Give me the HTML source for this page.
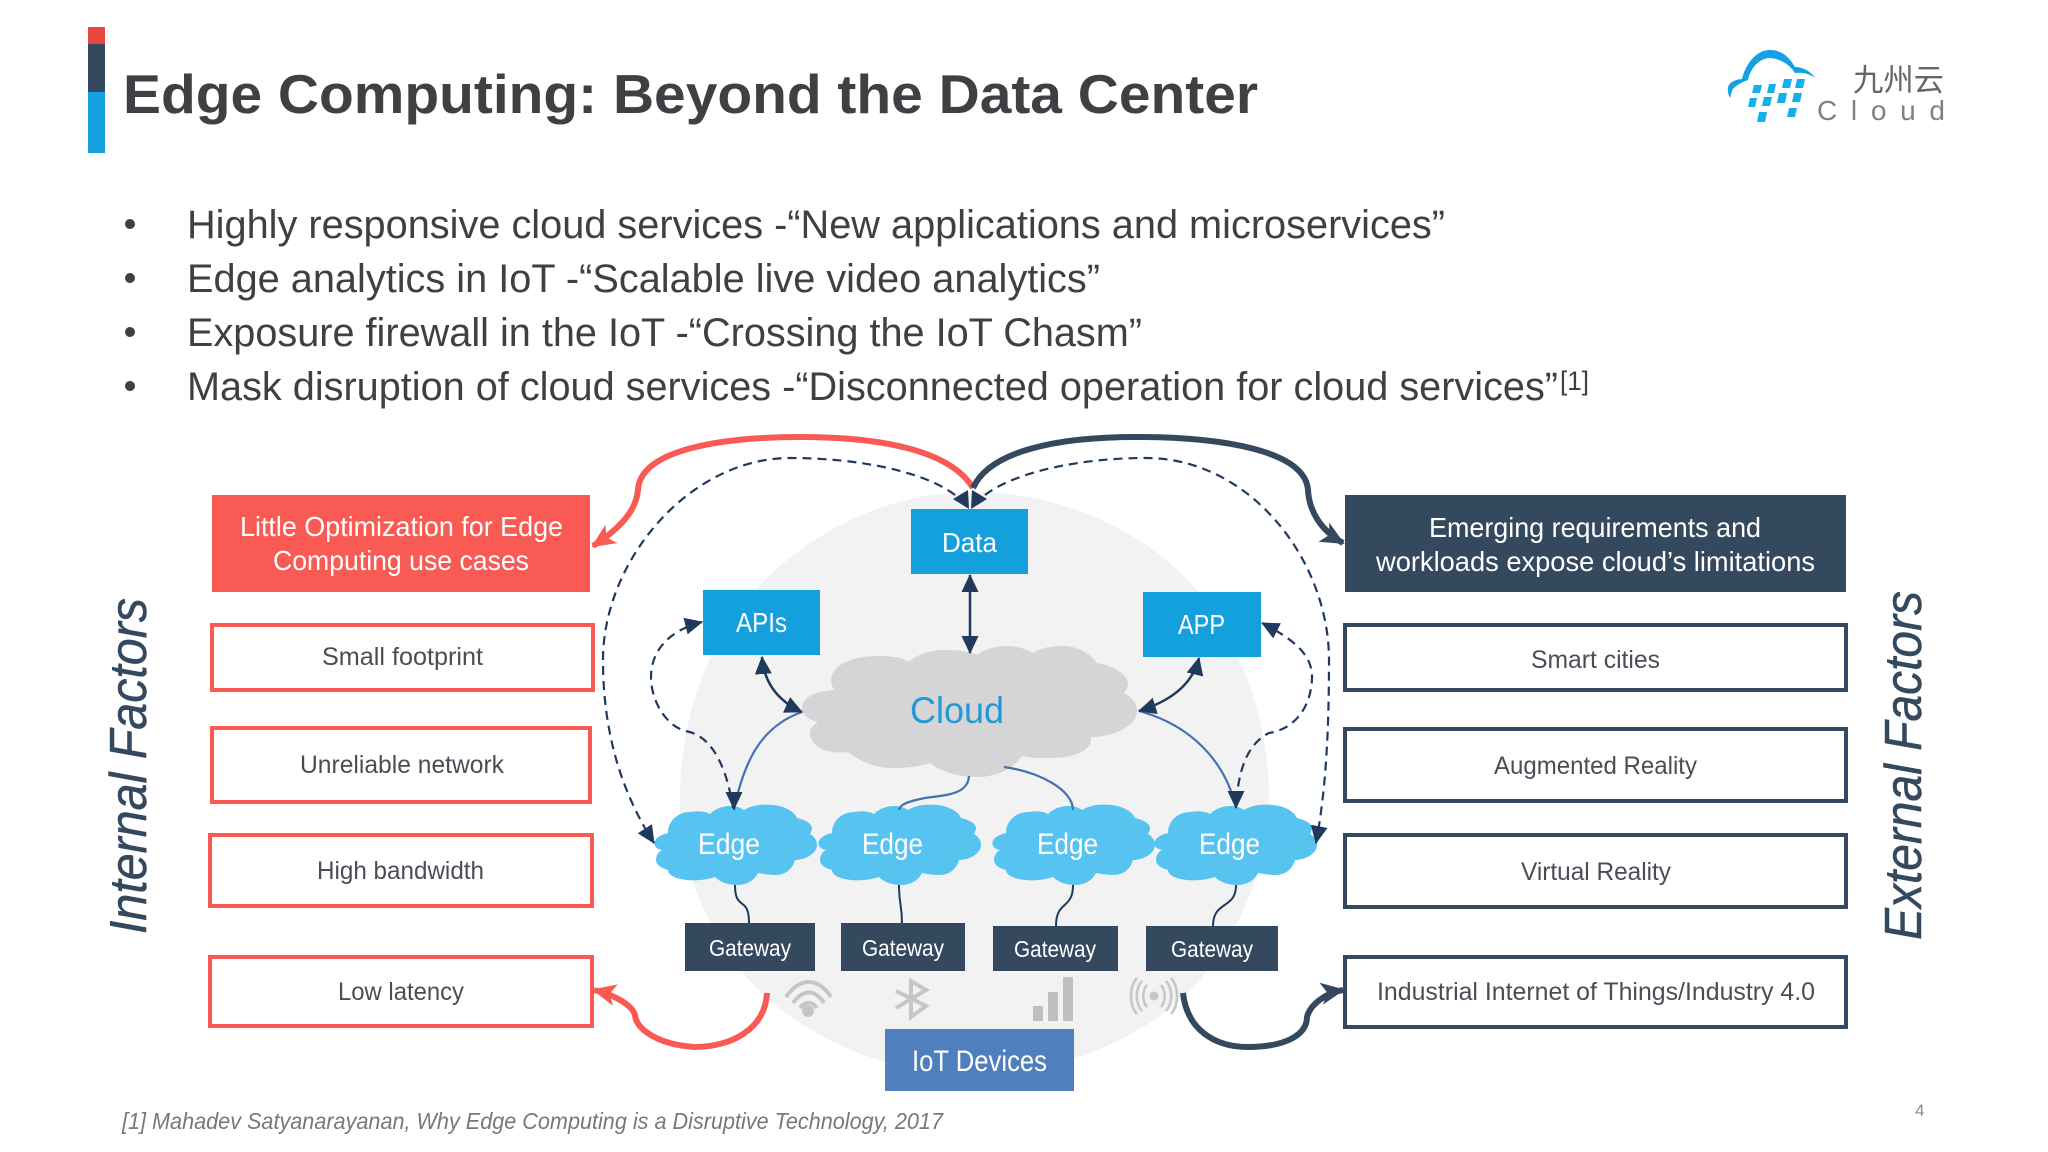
<!DOCTYPE html>
<html>
<head>
<meta charset="utf-8">
<style>
html,body{margin:0;padding:0;background:#fff;width:2048px;height:1152px;overflow:hidden}
svg{display:block}
text{font-family:"Liberation Sans","Noto Sans CJK SC",sans-serif}
</style>
</head>
<body>
<svg width="2048" height="1152" viewBox="0 0 2048 1152" xmlns="http://www.w3.org/2000/svg">
<defs>
<marker id="ad" viewBox="0 0 18 17" refX="17" refY="8.5" markerWidth="18" markerHeight="17" markerUnits="userSpaceOnUse" orient="auto-start-reverse"><path d="M0 0L18 8.5L0 17Z" fill="#1f3a5c"/></marker>
<marker id="ar" viewBox="0 0 24 22" refX="22" refY="11" markerWidth="24" markerHeight="22" markerUnits="userSpaceOnUse" orient="auto"><path d="M0 0L24 11L0 22L6 11Z" fill="#f95a54"/></marker>
<marker id="an" viewBox="0 0 24 22" refX="22" refY="11" markerWidth="24" markerHeight="22" markerUnits="userSpaceOnUse" orient="auto"><path d="M0 0L24 11L0 22L6 11Z" fill="#34495e"/></marker>
<path id="edge" fill="#57c3f0" d="M8 44C-3 42-3 31 14 27C14 14 25 6 36 6C44 5 51 5 56 8C62 2 70 0 76 0C81 0 86 1 90 4C98-1 108-2 119-1C130 0 140 5 143 12C152 14 158 18 158 22C158 24 157 26 156 28C161 31 163 35 163 39C163 47 152 54 141 54C139 62 132 69 122 69C116 69 109 68 104 67C100 75 92 79 83 79C74 79 66 76 61 71C52 74 42 75 33 74C22 73 14 69 14 64C6 62 2 58 2 54C2 50 4 46 8 44Z"/>
</defs>

<!-- title bar -->
<rect x="88" y="27" width="17" height="17" fill="#e8473f"/>
<rect x="88" y="44" width="17" height="48" fill="#34495e"/>
<rect x="88" y="92" width="17" height="61" fill="#14a0dc"/>
<text x="123" y="113" font-size="55" font-weight="700" fill="#3f3f44" textLength="1135" lengthAdjust="spacingAndGlyphs">Edge Computing: Beyond the Data Center</text>

<!-- logo -->
<path d="M1730 98C1726 90 1728 84 1732 82C1735 80 1739 79 1742 79C1745 66 1755 50 1770 50C1780 50 1788 55 1795 67C1802 67 1811 71 1815 78C1810 74 1803 72 1795 73C1790 65 1780 58 1768 58C1757 60 1750 70 1748 80C1740 83 1733 87 1732 91Z" fill="#14a0e4"/>
<g fill="#14b0ee">
<path d="M1754 85h8l-2 8h-8z"/><path d="M1769 84h7l-2 9h-7z"/><path d="M1784 79h8l-2 9h-8z"/><path d="M1797 79h8l-2 9h-8z"/>
<path d="M1750 98h7l-2 9h-7z"/><path d="M1764 97h8l-2 9h-8z"/><path d="M1779 93h8l-2 10h-8z"/><path d="M1794 93h8l-2 9h-8z"/>
<path d="M1759 112h8l-2 10h-8z"/><path d="M1789 108h8l-2 9h-8z"/>
</g>
<text x="1853" y="91" font-size="31" fill="#666" textLength="91" lengthAdjust="spacingAndGlyphs">九州云</text>
<text x="1817" y="120" font-size="28" fill="#808080" textLength="128" lengthAdjust="spacing">Cloud</text>

<!-- bullets -->
<g fill="#3f3f44">
<circle cx="130" cy="224" r="5"/><circle cx="130" cy="278" r="5"/><circle cx="130" cy="332" r="5"/><circle cx="130" cy="386" r="5"/>
</g>
<g font-size="40" fill="#3f3f44">
<text x="187" y="238" textLength="1258" lengthAdjust="spacingAndGlyphs">Highly responsive cloud services -“New applications and microservices”</text>
<text x="187" y="292" textLength="913" lengthAdjust="spacingAndGlyphs">Edge analytics in IoT -“Scalable live video analytics”</text>
<text x="187" y="346" textLength="955" lengthAdjust="spacingAndGlyphs">Exposure firewall in the IoT -“Crossing the IoT Chasm”</text>
<text x="187" y="400" textLength="1371" lengthAdjust="spacingAndGlyphs">Mask disruption of cloud services -“Disconnected operation for cloud services”</text>
<text x="1560" y="390" font-size="27" textLength="29" lengthAdjust="spacingAndGlyphs">[1]</text>
</g>

<!-- central blob -->
<path d="M972 492C880 492 790 540 735 615C700 665 680 730 680 800C680 860 700 920 745 975C790 1030 880 1075 975 1075C1070 1075 1170 1025 1207 970C1245 920 1269 860 1269 800C1269 730 1250 665 1205 600C1150 530 1060 492 972 492Z" fill="#f2f2f3"/>

<!-- gray cloud -->
<path fill="#d5d5d8" d="M834 690C822 668 850 655 880 656C893 656 903 658 909 662C920 652 935 650 947 650C960 650 970 652 977 655C985 649 997 646 1006 646C1017 646 1027 649 1033 653C1042 647 1053 646 1065 646C1080 647 1092 655 1097 663C1115 666 1128 675 1128 684C1128 688 1126 690 1124 693C1133 698 1137 704 1137 711C1137 725 1115 737 1091 737C1093 750 1075 758 1050 758C1040 758 1030 758 1022 756C1012 770 995 777 977 777C958 777 940 771 930 763C918 767 905 768 892 768C873 768 858 760 848 752C825 755 810 745 810 733C810 729 813 725 818 722C808 720 802 714 802 708C802 698 815 691 834 690Z"/>
<text x="910" y="723" font-size="37" fill="#2199d4" textLength="94" lengthAdjust="spacingAndGlyphs">Cloud</text>

<!-- blue boxes -->
<g fill="#14a0dc">
<rect x="911" y="509" width="117" height="65"/><rect x="703" y="590" width="117" height="65"/><rect x="1143" y="592" width="118" height="65"/>
</g>
<g font-size="28" fill="#fff">
<text x="942" y="552" textLength="55" lengthAdjust="spacingAndGlyphs">Data</text>
<text x="736" y="632" textLength="51" lengthAdjust="spacingAndGlyphs">APIs</text>
<text x="1178" y="634" textLength="47" lengthAdjust="spacingAndGlyphs">APP</text>
</g>

<!-- edge clouds -->
<use href="#edge" x="654" y="806"/><use href="#edge" x="818" y="806"/><use href="#edge" x="992" y="806"/><use href="#edge" x="1154" y="806"/>
<g font-size="30" fill="#fff">
<text x="698" y="854" textLength="62" lengthAdjust="spacingAndGlyphs">Edge</text>
<text x="862" y="854" textLength="61" lengthAdjust="spacingAndGlyphs">Edge</text>
<text x="1037" y="854" textLength="61" lengthAdjust="spacingAndGlyphs">Edge</text>
<text x="1199" y="854" textLength="61" lengthAdjust="spacingAndGlyphs">Edge</text>
</g>

<!-- gateways -->
<g fill="#34495e">
<rect x="685" y="923" width="130" height="48"/><rect x="841" y="923" width="124" height="48"/><rect x="993" y="926" width="125" height="45"/><rect x="1146" y="926" width="132" height="45"/>
</g>
<g font-size="23" fill="#fff">
<text x="709" y="956" textLength="82" lengthAdjust="spacingAndGlyphs">Gateway</text>
<text x="862" y="956" textLength="82" lengthAdjust="spacingAndGlyphs">Gateway</text>
<text x="1014" y="957" textLength="82" lengthAdjust="spacingAndGlyphs">Gateway</text>
<text x="1171" y="957" textLength="82" lengthAdjust="spacingAndGlyphs">Gateway</text>
</g>

<!-- edge-gateway lines -->
<g fill="none" stroke="#1f3a5c" stroke-width="2">
<path d="M735 885C735 912 749 895 749 923"/><path d="M899 885C899 905 902 905 902 923"/>
<path d="M1073 885C1073 910 1056 900 1056 926"/><path d="M1236 885C1236 910 1213 900 1213 926"/>
</g>

<!-- icons -->
<g fill="none" stroke="#c6c6c8" stroke-width="4">
<path d="M786 997C800 977 818 977 831 997"/><path d="M793 1003C803 989 815 989 824 1003"/><path d="M800 1008C805 1001 812 1001 817 1008"/>
</g>
<circle cx="808" cy="1011" r="6" fill="#c6c6c8"/>
<path d="M896 1008L926 990L911 981V1017L926 1006L896 991" fill="none" stroke="#c6c6c8" stroke-width="4"/>
<g fill="#bfbfc2">
<rect x="1033" y="1006" width="10" height="15"/><rect x="1048" y="992" width="10" height="29"/><rect x="1063" y="977" width="10" height="44"/>
</g>
<g fill="none" stroke="#c6c6c8" stroke-width="2.5">
<path d="M1147 985C1142 991 1142 1001 1147 1007"/><path d="M1161 985C1166 991 1166 1001 1161 1007"/>
<path d="M1142 981C1135 989 1135 1003 1142 1011"/><path d="M1166 981C1173 989 1173 1003 1166 1011"/>
<path d="M1137 978C1129 987 1129 1005 1137 1014"/><path d="M1171 978C1179 987 1179 1005 1171 1014"/>
</g>
<circle cx="1154" cy="996" r="4.5" fill="#c6c6c8"/>

<!-- IoT -->
<rect x="885" y="1029" width="189" height="62" fill="#4f7fbd"/>
<text x="912" y="1071" font-size="30" fill="#fff" textLength="135" lengthAdjust="spacingAndGlyphs">IoT Devices</text>

<!-- thin connectors -->
<g fill="none" stroke="#4472b0" stroke-width="2.2">
<path d="M802 712C765 725 745 755 734 810"/>
<path d="M1139 711C1190 725 1225 760 1236 808"/>
<path d="M969 776C968 795 945 795 925 798C905 802 900 805 899 810"/>
<path d="M1004 767C1040 772 1073 790 1073 810"/>
</g>
<g fill="none" stroke="#1f3a5c" stroke-width="2.5">
<path d="M970 575V653" marker-start="url(#ad)" marker-end="url(#ad)"/>
<path d="M762 657Q765 695 802 712" marker-start="url(#ad)" marker-end="url(#ad)"/>
<path d="M1199 658Q1190 695 1139 711" marker-start="url(#ad)" marker-end="url(#ad)"/>
</g>
<path d="M734 800L734 809" fill="none" stroke="#1f3a5c" stroke-width="2" marker-end="url(#ad)"/>
<path d="M1236 800L1236 808" fill="none" stroke="#1f3a5c" stroke-width="2" marker-end="url(#ad)"/>

<!-- dashed -->
<g fill="none" stroke="#1f3a5c" stroke-width="2.2" stroke-dasharray="9 6">
<path d="M955 495C925 472 860 458 790 458C690 458 603 560 603 660C603 730 620 790 654 843" marker-end="url(#ad)"/>
<path d="M985 495C1015 472 1080 458 1146 458C1250 458 1329 560 1329 660C1329 730 1326 790 1316 843" marker-end="url(#ad)"/>
<path d="M702 622C670 630 651 650 651 677C651 700 665 725 685 731C715 735 728 775 733 808" marker-start="url(#ad)"/>
<path d="M1262 623C1295 640 1312 655 1312 677C1312 700 1300 728 1269 733C1245 745 1238 775 1236 806" marker-start="url(#ad)"/>
</g>

<!-- thick arcs -->
<g fill="none" stroke-width="6">
<path d="M973 488C950 450 880 437 800 437C720 437 640 450 638 490C636 510 622 527 593 546" stroke="#f95a54" marker-end="url(#ar)"/>
<path d="M973 488C990 450 1060 437 1136 437C1220 437 1305 450 1308 490C1309 510 1320 530 1343 543" stroke="#34495e" marker-end="url(#an)"/>
<path d="M767 993C765 1030 730 1047 695 1047C660 1045 636 1030 635 1015C632 1005 615 995 594 990" stroke="#f95a54" marker-end="url(#ar)"/>
<path d="M1183 993C1187 1030 1215 1047 1248 1047C1285 1047 1307 1035 1307 1017C1310 1005 1325 993 1343 990" stroke="#34495e" marker-end="url(#an)"/>
</g>
<!-- arrowheads at Data -->
<path d="M969 509L953 499L968 490Z" fill="#1f3a5c"/>
<path d="M971 509L987 499L972 490Z" fill="#1f3a5c"/>

<!-- left panel -->
<rect x="212" y="495" width="378" height="97" fill="#f95a54"/>
<g font-size="27.5" fill="#fff">
<text x="240" y="536" textLength="323" lengthAdjust="spacingAndGlyphs">Little Optimization for Edge</text>
<text x="273" y="570" textLength="256" lengthAdjust="spacingAndGlyphs">Computing use cases</text>
</g>
<g fill="#fff" stroke="#f95a54" stroke-width="4">
<rect x="212" y="625" width="381" height="65"/><rect x="212" y="728" width="378" height="74"/>
<rect x="210" y="835" width="382" height="71"/><rect x="210" y="957" width="382" height="69"/>
</g>
<g font-size="25" fill="#4a4d55">
<text x="322" y="665" textLength="161" lengthAdjust="spacingAndGlyphs">Small footprint</text>
<text x="300" y="773" textLength="204" lengthAdjust="spacingAndGlyphs">Unreliable network</text>
<text x="317" y="879" textLength="167" lengthAdjust="spacingAndGlyphs">High bandwidth</text>
<text x="338" y="1000" textLength="126" lengthAdjust="spacingAndGlyphs">Low latency</text>
</g>
<text transform="translate(146 934) rotate(-90)" font-size="52" font-style="italic" fill="#34495e" stroke="#34495e" stroke-width=".5" textLength="336" lengthAdjust="spacingAndGlyphs">Internal Factors</text>

<!-- right panel -->
<rect x="1345" y="495" width="501" height="97" fill="#34495e"/>
<g font-size="28" fill="#fff">
<text x="1429" y="537" textLength="332" lengthAdjust="spacingAndGlyphs">Emerging requirements and</text>
<text x="1376" y="571" textLength="439" lengthAdjust="spacingAndGlyphs">workloads expose cloud’s limitations</text>
</g>
<g fill="#fff" stroke="#34495e" stroke-width="4">
<rect x="1345" y="625" width="501" height="65"/><rect x="1345" y="729" width="501" height="72"/>
<rect x="1345" y="835" width="501" height="72"/><rect x="1345" y="957" width="501" height="70"/>
</g>
<g font-size="25" fill="#4a4d55">
<text x="1531" y="668" textLength="129" lengthAdjust="spacingAndGlyphs">Smart cities</text>
<text x="1494" y="774" textLength="203" lengthAdjust="spacingAndGlyphs">Augmented Reality</text>
<text x="1521" y="880" textLength="150" lengthAdjust="spacingAndGlyphs">Virtual Reality</text>
<text x="1377" y="1000" textLength="438" lengthAdjust="spacingAndGlyphs">Industrial Internet of Things/Industry 4.0</text>
</g>
<text transform="translate(1921 940) rotate(-90)" font-size="52" font-style="italic" fill="#34495e" stroke="#34495e" stroke-width=".5" textLength="349" lengthAdjust="spacingAndGlyphs">External Factors</text>

<!-- footer -->
<text x="122" y="1129" font-size="23" font-style="italic" fill="#77777d" textLength="821" lengthAdjust="spacingAndGlyphs">[1] Mahadev Satyanarayanan, Why Edge Computing is a Disruptive Technology, 2017</text>
<text x="1915" y="1116" font-size="17" fill="#8a8a8f">4</text>
</svg>
</body>
</html>
